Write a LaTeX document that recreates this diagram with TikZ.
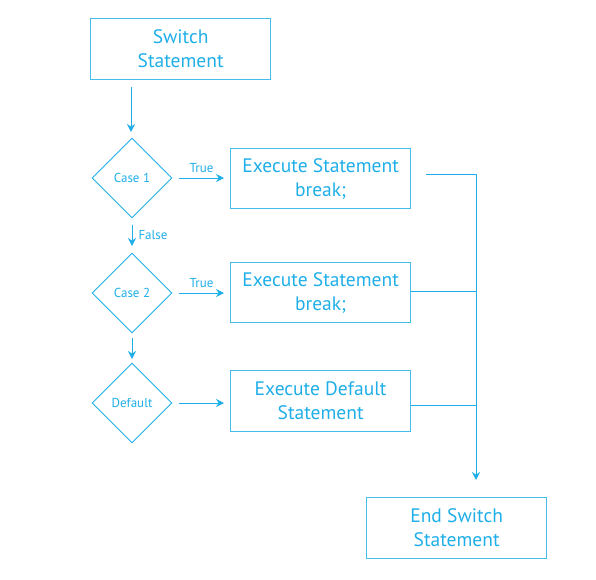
\documentclass[tikz,border=0pt]{standalone}
\usepackage{fontspec}
\setmainfont{PT Sans}
\usetikzlibrary{shapes.geometric,arrows.meta,calc}
\definecolor{cy}{HTML}{1FAEE8}
\definecolor{cyb}{HTML}{45BDEC}
\begin{document}
\begin{tikzpicture}[x=1pt,y=-1pt,
  box/.style={draw=cyb,line width=1.3pt,minimum width=180pt,minimum height=61pt,inner sep=0pt,text=cy,font=\fontsize{19.5}{24}\selectfont,align=center,anchor=north west},
  dec/.style={draw=cy,line width=0.9pt,diamond,aspect=1,minimum width=80pt,minimum height=80pt,inner sep=0pt,text=cy,font=\fontsize{13}{14}\selectfont},
  lbl/.style={text=cy,font=\fontsize{13}{14}\selectfont,inner sep=0pt},
  arr/.style={draw=cy,line width=1pt,-{Stealth[length=8pt,width=8pt]}},
  ln/.style={draw=cy,line width=1pt}]
\useasboundingbox (0,0) rectangle (596,579);
\node[box] (sw) at (90,18) {Switch\\Statement};
\node[dec] (c1) at (132,178) {Case 1};
\node[dec] (c2) at (132,293) {Case 2};
\node[dec] (df) at (132,403) {Default};
\node[box,minimum height=60pt] (b1) at (230,148) {Execute Statement\\break;};
\node[box,minimum height=60pt] (b2) at (230,262) {Execute Statement\\break;};
\node[box] (b3) at (230,370) {Execute Default\\Statement};
\node[box] (en) at (366,497) {End Switch\\Statement};
% connectors
\coordinate (a0) at (131,87);
\coordinate (a1) at (131,132);
\draw[arr] (a0) -- (a1);
\coordinate (t1s) at (179,178);
\coordinate (t1e) at (224,178);
\draw[arr] (t1s) -- node[lbl,above=5pt] (tl1) {True} (t1e);
\coordinate (f1s) at (132,225);
\coordinate (f1e) at (132,246);
\draw[arr] (f1s) -- node[lbl,right=6pt] (fl) {False} (f1e);
\coordinate (t2s) at (179,293);
\coordinate (t2e) at (224,293);
\draw[arr] (t2s) -- node[lbl,above=5pt] (tl2) {True} (t2e);
\coordinate (d1s) at (132,338);
\coordinate (d1e) at (132,359);
\draw[arr] (d1s) -- (d1e);
\coordinate (d2s) at (179,403);
\coordinate (d2e) at (224,403);
\draw[arr] (d2s) -- (d2e);
\coordinate (r1) at (426,174);
\coordinate (j1) at (476,174);
\coordinate (j2) at (476,291);
\coordinate (j3) at (476,405);
\coordinate (je) at (476,480);
\draw[ln] (r1) -- (j1);
\draw[ln] (b2.east |- j2) -- (j2);
\draw[ln] (b3.east |- j3) -- (j3);
\draw[arr] (j1) -- (je);
\end{tikzpicture}
\end{document}
